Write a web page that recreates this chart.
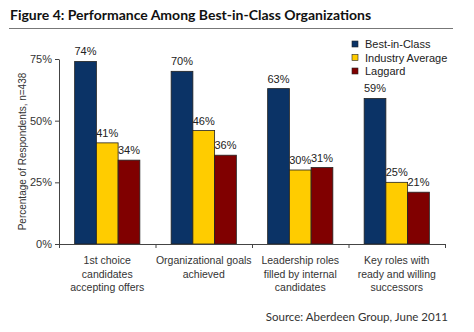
<!DOCTYPE html>
<html>
<head>
<meta charset="utf-8">
<script src="https://cdn.jsdelivr.net/npm/d3@7"></script>
<style>
  body { margin: 0; background: #fff; }
  svg { display: block; }
</style>
</head>
<body>
<div id="chart"></div>
<script>
const categories = [
  ["1st choice", "candidates", "accepting offers"],
  ["Organizational goals", "achieved"],
  ["Leadership roles", "filled by internal", "candidates"],
  ["Key roles with", "ready and willing", "successors"]
];
const seriesNames = ["Best-in-Class", "Industry Average", "Laggard"];
const bestInClass = [74, 70, 63, 59];
const industryAverage = [41, 46, 30, 25];
const laggard = [34, 36, 31, 21];
const yTicks = [0, 25, 50, 75];

const colors = ["#0b3366", "#ffcc00", "#800000"];
const values = [bestInClass, industryAverage, laggard];

const width = 474;
const height = 332;
const margin = { left: 59, right: 29, top: 59, bottom: 88 };

const svg = d3
  .select("#chart")
  .append("svg")
  .attr("width", width)
  .attr("height", height);

// title + rule
svg
  .append("text")
  .attr("x", 10)
  .attr("y", 20)
  .attr("font-family", "Lato, 'Open Sans', sans-serif")
  .attr("font-weight", "bold")
  .attr("font-size", 14)
  .attr("fill", "#111")
  .text("Figure 4: Performance Among Best-in-Class Organizations");

svg
  .append("line")
  .attr("x1", 9)
  .attr("x2", 453)
  .attr("y1", 28.5)
  .attr("y2", 28.5)
  .attr("stroke", "#777")
  .attr("stroke-width", 1);

const x0 = d3
  .scaleBand()
  .domain(d3.range(categories.length))
  .range([margin.left, width - margin.right])
  .paddingInner(0)
  .paddingOuter(0);

const x1 = d3
  .scaleBand()
  .domain(d3.range(seriesNames.length))
  .range([0, x0.bandwidth()])
  .paddingInner(0)
  .paddingOuter(0.72);

const y = d3
  .scaleLinear()
  .domain([0, 75])
  .range([height - margin.bottom, margin.top]);

const font = "'Liberation Sans', Arial, sans-serif";

// bars
const groups = svg
  .append("g")
  .selectAll("g")
  .data(categories)
  .enter()
  .append("g")
  .attr("transform", (d, i) => `translate(${x0(i)},0)`);

groups
  .selectAll("rect")
  .data((d, i) => values.map((s, j) => ({ j, v: s[i] })))
  .enter()
  .append("rect")
  .attr("x", (d) => x1(d.j))
  .attr("y", (d) => y(d.v))
  .attr("width", x1.bandwidth())
  .attr("height", (d) => y(0) - y(d.v))
  .attr("fill", (d) => colors[d.j])
  .attr("stroke", "#222")
  .attr("stroke-width", 0.8);

groups
  .selectAll("text.val")
  .data((d, i) => values.map((s, j) => ({ j, v: s[i] })))
  .enter()
  .append("text")
  .attr("class", "val")
  .attr("x", (d) => x1(d.j) + x1.bandwidth() / 2)
  .attr("y", (d) => y(d.v) - 6)
  .attr("text-anchor", "middle")
  .attr("font-family", font)
  .attr("font-size", 11)
  .attr("fill", "#222")
  .text((d) => d.v + "%");

// y axis
const yAxis = svg
  .append("g")
  .attr("transform", `translate(${margin.left},0)`)
  .call(
    d3
      .axisLeft(y)
      .tickValues(yTicks)
      .tickFormat((d) => d + "%")
      .tickSize(4)
      .tickSizeOuter(0)
  );
yAxis.selectAll("text").attr("font-family", font).attr("font-size", 11).attr("fill", "#333");
yAxis.selectAll("line, path").attr("stroke", "#444");

// x axis (ticks at category boundaries)
const xb = d3
  .scaleLinear()
  .domain([0, categories.length])
  .range([margin.left, width - margin.right]);

const xAxis = svg
  .append("g")
  .attr("transform", `translate(0,${y(0)})`)
  .call(
    d3
      .axisBottom(xb)
      .tickValues(d3.range(categories.length + 1))
      .tickFormat("")
      .tickSize(4)
      .tickSizeOuter(0)
  );
xAxis.selectAll("line, path").attr("stroke", "#444");

// category labels
const catLabels = svg
  .append("g")
  .selectAll("text")
  .data(categories)
  .enter()
  .append("text")
  .attr("x", (d, i) => x0(i) + x0.bandwidth() / 2)
  .attr("y", y(0) + 20)
  .attr("text-anchor", "middle")
  .attr("font-family", font)
  .attr("font-size", 10.5)
  .attr("fill", "#333");

catLabels
  .selectAll("tspan")
  .data((d) => d)
  .enter()
  .append("tspan")
  .attr("x", function () {
    return this.parentNode.getAttribute("x");
  })
  .attr("dy", (d, i) => (i === 0 ? 0 : 13.5))
  .text((d) => d);

// y axis title
svg
  .append("text")
  .attr("transform", `translate(26,${(y(0) + y(75)) / 2}) rotate(-90)`)
  .attr("text-anchor", "middle")
  .attr("font-family", font)
  .attr("font-size", 10)
  .attr("fill", "#333")
  .text("Percentage of Respondents, n=438");

// legend
const legend = svg
  .append("g")
  .selectAll("g")
  .data(seriesNames)
  .enter()
  .append("g")
  .attr("transform", (d, i) => `translate(352,${41 + i * 13.5})`);

legend
  .append("rect")
  .attr("width", 6)
  .attr("height", 6)
  .attr("fill", (d, i) => colors[i])
  .attr("stroke", "#222")
  .attr("stroke-width", 0.6);

legend
  .append("text")
  .attr("x", 13)
  .attr("y", 7)
  .attr("font-family", font)
  .attr("font-size", 11)
  .attr("fill", "#222")
  .text((d) => d);

// source
svg
  .append("text")
  .attr("x", 448)
  .attr("y", 321)
  .attr("text-anchor", "end")
  .attr("font-family", "Lato, 'Open Sans', sans-serif")
  .attr("font-size", 11.5)
  .attr("fill", "#333")
  .text("Source: Aberdeen Group, June 2011");
</script>
</body>
</html>
